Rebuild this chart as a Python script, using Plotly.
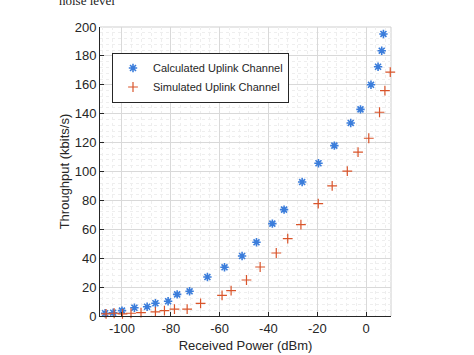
import plotly.graph_objects as go

calc_x = [-106.9, -103.6, -100.0, -94.9, -89.7, -86.3, -81.1, -77.4, -72.3, -65.0, -58.0, -50.8,
          -44.9, -38.4, -33.6, -26.2, -19.5, -13.0, -6.3, -2.3, 2.0, 4.9, 6.4, 7.1]
calc_y = [1.9, 2.3, 3.7, 5.7, 6.4, 8.8, 10.2, 15.0, 17.1, 27.0, 33.7, 41.5,
          51.0, 63.9, 73.6, 92.7, 105.7, 117.9, 133.6, 143.0, 160.0, 172.5, 183.6, 195.2]

sim_x = [-106.5, -103.2, -99.8, -96.3, -92.2, -86.3, -82.6, -78.5, -73.3, -67.8, -59.0, -55.3,
         -49.0, -43.4, -36.8, -32.1, -26.7, -19.6, -13.9, -7.7, -3.3, 1.1, 5.5, 7.7, 9.9]
sim_y = [1.5, 1.9, 1.5, 1.9, 2.3, 2.9, 3.7, 4.7, 4.8, 8.8, 14.3, 17.6,
         24.9, 33.9, 43.6, 53.5, 63.2, 77.7, 90.0, 100.3, 113.4, 123.0, 141.0, 156.0, 168.8]

x_ticks = [-100, -80, -60, -40, -20, 0]
y_ticks = [0, 20, 40, 60, 80, 100, 120, 140, 160, 180, 200]

BLUE = "#3b7ddb"
RED = "#d9542a"
FONT = "Liberation Sans, Arial, sans-serif"

fig = go.Figure()
fig.add_trace(go.Scatter(
    x=calc_x, y=calc_y, mode="markers", name="Calculated Uplink Channel",
    marker=dict(symbol="asterisk-open", size=7, color=BLUE, line=dict(color=BLUE, width=1.6)),
    cliponaxis=False,
))
fig.add_trace(go.Scatter(
    x=sim_x, y=sim_y, mode="markers", name="Simulated Uplink Channel",
    marker=dict(symbol="cross-thin-open", size=7, color=RED, line=dict(color=RED, width=1.2)),
    cliponaxis=False,
))

axis_common = dict(
    showgrid=True, gridcolor="#d9d9d9", gridwidth=1,
    showline=True, linecolor="#262626", linewidth=1,
    ticks="inside", ticklen=4, tickcolor="#262626",
    tickfont=dict(family=FONT, size=13, color="#262626"),
    zeroline=False, automargin=False,
)

fig.update_xaxes(
    range=[-109, 10.2], tickvals=x_ticks, ticktext=[str(v) for v in x_ticks],
    title=dict(text="Received Power (dBm)", font=dict(family=FONT, size=13, color="#262626"), standoff=6),
    minor=dict(dtick=4, tick0=0, showgrid=True, gridcolor="#eeeeee", griddash="dot", ticks=""),
    **axis_common,
)
fig.update_yaxes(
    range=[0, 200], tickvals=y_ticks, ticktext=[str(v) for v in y_ticks],
    title=dict(text="Throughput (kbits/s)", font=dict(family=FONT, size=13, color="#262626"), standoff=2),
    minor=dict(dtick=4, tick0=0, showgrid=True, gridcolor="#eeeeee", griddash="dot", ticks=""),
    **axis_common,
)

# light box on the top and right edges
fig.add_shape(type="line", xref="paper", yref="paper", x0=0, x1=1, y0=1, y1=1,
              line=dict(color="#cfcfcf", width=1), layer="below")
fig.add_shape(type="line", xref="paper", yref="paper", x0=1, x1=1, y0=0, y1=1,
              line=dict(color="#cfcfcf", width=1), layer="below")

fig.add_annotation(text="noise level", xref="paper", yref="paper",
                   x=(57 - 100) / 291, y=(316 - 1) / 289, xanchor="left", yanchor="middle",
                   showarrow=False, font=dict(family="Liberation Serif, serif", size=13, color="#222"))

fig.update_layout(
    width=474, height=355,
    margin=dict(l=100, r=83, t=27, b=39, autoexpand=False),
    paper_bgcolor="white", plot_bgcolor="white",
    showlegend=True,
    legend=dict(
        x=(112 - 100) / 291, y=(316 - 52.5) / 289, xanchor="left", yanchor="top",
        bgcolor="white", bordercolor="#262626", borderwidth=1,
        font=dict(family=FONT, size=11, color="#262626"),
        tracegroupgap=0, itemwidth=30,
    ),
)

fig.write_html("out.html", config={"displayModeBar": False},
               post_script="document.body.style.margin='0';document.body.style.overflow='hidden';")
